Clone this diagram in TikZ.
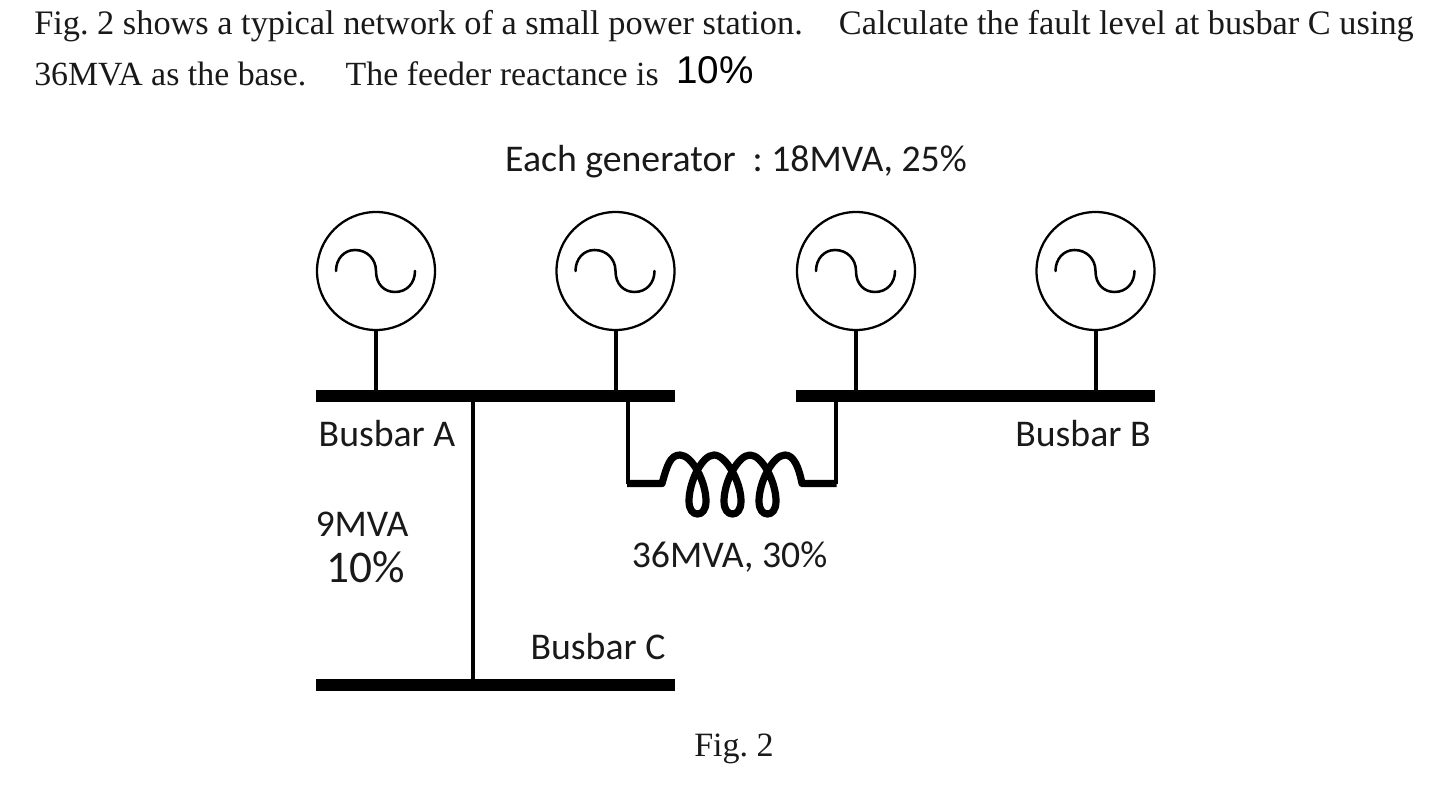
\documentclass[tikz,border=0pt]{standalone}
\usepackage{fontspec}
\setmainfont{Liberation Serif}
\newfontfamily\calib{Carlito}
\newfontfamily\arial{Liberation Sans}
\frenchspacing
\tikzset{
 px/.style={x=0.75pt,y=-0.75pt},
 gen/.style={circle,draw=black,line width=1.7pt,minimum size=88.5pt,inner sep=0pt,fill=white},
 bus/.style={fill=black,draw=none,minimum height=9pt,inner sep=0pt,rectangle},
 wire/.style={draw=black,line width=3pt},
 stub/.style={draw=black,line width=3pt},
 sine/.style={line width=1.9pt,black,line cap=round},
 lab/.style={font=\calib\fontsize{28.3}{30}\selectfont,inner sep=0pt,text=black!90},
 txt/.style={inner sep=0pt,anchor=base west,text=black!90}
}
\usetikzlibrary{calc}
\newcommand{\sinewave}[1]{
 \draw[sine] ($(#1)+(-40,0)$) .. controls ($(#1)+(-40,-12)$) and ($(#1)+(-32,-21)$) .. ($(#1)+(-21,-21)$)
 .. controls ($(#1)+(-9,-21)$) and ($(#1)+(0,-12)$) .. ($(#1)+(0,0)$)
 .. controls ($(#1)+(0,13)$) and ($(#1)+(8,21)$) .. ($(#1)+(19,21)$)
 .. controls ($(#1)+(31,21)$) and ($(#1)+(39,12)$) .. ($(#1)+(39,0)$);
}
\begin{document}
\begin{tikzpicture}[px]
\useasboundingbox (0,0) rectangle (1450,787);
\node[txt,font=\fontsize{25.75}{28}\selectfont] (t1) at (34,35) {Fig. 2 shows a typical network of a small power station.\hspace{27pt}Calculate the fault level at busbar C using};
\node[txt,font=\fontsize{25.4}{28}\selectfont] (t2) at (34,86) {36MVA as the base.\hspace{29.5pt}The feeder reactance is};
\node[inner sep=0pt,anchor=base west,font=\arial\fontsize{29}{32}\selectfont] (t3) at (676,84) {10\%};
\node[lab] (each) at (736,162) {Each generator~ : 18MVA, 25\%};
% generators
\node[gen] (g1) at (376,271) {};
\node[gen] (g2) at (615.5,271) {};
\node[gen] (g3) at (856,271) {};
\node[gen] (g4) at (1095.5,271) {};
\sinewave{g1}\sinewave{g2}\sinewave{g3}\sinewave{g4}
% busbars
\node[bus,minimum width=269.5pt] (busA) at (495.5,396.3) {};
\node[bus,minimum width=269.5pt] (busB) at (975.5,396.3) {};
\node[bus,minimum width=269.5pt] (busC) at (495.5,684.5) {};
\draw[stub] (g1.south) -- (g1.south |- busA.north);
\draw[stub] (g2.south) -- (g2.south |- busA.north);
\draw[stub] (g3.south) -- (g3.south |- busB.north);
\draw[stub] (g4.south) -- (g4.south |- busB.north);
\coordinate (fa) at (472.5,396);
\coordinate (fc) at (472.5,684);
\draw[wire] (fa) -- (fc);
% transformer
\coordinate (ra) at (628,396);
\coordinate (rb) at (835.5,396);
\draw[wire] (ra) -- (628,484);
\draw[wire] (rb) -- (835.5,484);
\draw[line width=5.4pt,black,line join=round] (627,483.5) -- (662,483.5)
 .. controls (667,466) and (670,455) .. (680,455)
 .. controls (692,455) and (706,482) .. (706,501)
 .. controls (706,510) and (702,514) .. (697.5,514)
 .. controls (693,514) and (689,510) .. (689,501)
 .. controls (689,482) and (702,455) .. (714,455)
 .. controls (726,455) and (741,482) .. (741,501)
 .. controls (741,510) and (737,514) .. (732.5,514)
 .. controls (728,514) and (724,510) .. (724,501)
 .. controls (724,482) and (738,455) .. (750,455)
 .. controls (762,455) and (776,482) .. (776,501)
 .. controls (776,510) and (772,514) .. (767.5,514)
 .. controls (763,514) and (759,510) .. (759,501)
 .. controls (759,482) and (773,455) .. (785,455)
 .. controls (794,455) and (799,468) .. (802,483.5) -- (836.5,483.5);
\node[lab] (la) at (387,434) {Busbar A};
\node[lab] (lb) at (1083,434) {Busbar B};
\node[lab] (lc) at (598,647) {Busbar C};
\node[lab] (m9) at (362,524) {9MVA};
\node[lab,font=\calib\fontsize{34}{36}\selectfont] (p10) at (366,567) {10\%};
\node[lab] (m36) at (729.5,557) {36MVA, 30\%};
\node[inner sep=0pt,font=\fontsize{25.55}{28}\selectfont,text=black!90] (fig) at (734,749) {Fig. 2};
\end{tikzpicture}
\end{document}
